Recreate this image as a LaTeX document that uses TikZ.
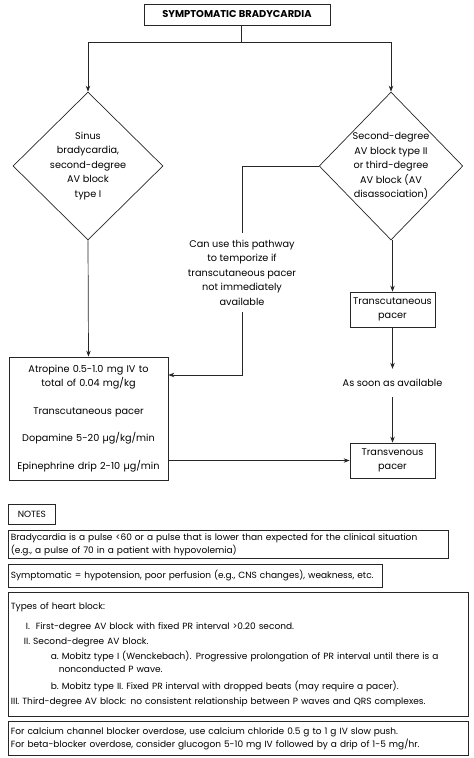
\documentclass[tikz,border=0pt]{standalone}
\usepackage{fontspec}
\setmainfont{Poppins}
\usetikzlibrary{shapes.geometric,arrows.meta}
\begin{document}
\begin{tikzpicture}[x=1pt,y=-1pt,
  ln/.style={draw=black!85, line width=0.7pt},
  arr/.style={ln, -{Stealth[length=6pt,width=4.5pt]}},
  dfont/.style={font=\fontsize{9.7}{14.5}\selectfont},
  nfont/.style={font=\fontsize{9}{13}\selectfont},
  box/.style={ln, inner sep=0pt, align=center, dfont},
  dia/.style={diamond, ln, inner sep=0pt, align=center, dfont},
  note/.style={ln, anchor=north west, align=left, inner xsep=2.5pt, inner ysep=0pt, nfont}]
\useasboundingbox (0,0) rectangle (474,758);
% flowchart
\node[box, minimum width=186pt, minimum height=21pt, font=\bfseries\fontsize{9.9}{12}\selectfont] (title) at (237,14.5) {SYMPTOMATIC BRADYCARDIA};
\node[dia, minimum width=150pt, minimum height=148pt] (d1) at (88,166) {Sinus\\bradycardia,\\second-degree\\AV block\\type I};
\node[dia, minimum width=142pt, minimum height=148pt] (d2) at (391,166) {Second-degree\\AV block type II\\or third-degree\\AV block (AV\\disassociation)};
\coordinate (fork) at (241,42);
\draw[ln] ([xshift=4pt]title.south) -- ([xshift=4pt]title.south |- fork);
\draw[arr] ([xshift=4pt]title.south |- fork) -| (d1.north);
\draw[arr] ([xshift=4pt]title.south |- fork) -| (d2.north);
\node[dfont, align=center, inner sep=0pt, minimum height=79pt] (mid) at (242,272.5) {Can use this pathway\\to temporize if\\transcutaneous pacer\\not immediately\\available};
\node[box, minimum width=159pt, minimum height=123pt, text width=159pt] (atro) at (88.5,418.5) {Atropine 0.5-1.0 mg IV to\\total of 0.04 mg/kg\\[13pt]Transcutaneous pacer\\[13pt]Dopamine 5-20 µg/kg/min\\[13pt]Epinephrine drip 2-10 µg/min};
\node[box, minimum width=85pt, minimum height=35pt, text width=85pt] (tcp) at (392.5,309.5) {Transcutaneous\\pacer};
\node[dfont, inner sep=0pt, minimum height=28pt] (soon) at (392.5,383) {As soon as available};
\node[box, minimum width=85pt, minimum height=35pt, text width=85pt] (tvp) at (392.5,460.5) {Transvenous\\pacer};
\coordinate (c375) at (0,375);
\draw[arr] (d1.south) -- (atro.north);
\draw[ln] (d2.west) -| (mid.north);
\draw[arr] (mid.south) |- (atro.east |- c375);
\draw[arr] (d2.south -| tcp.north) -- (tcp.north);
\draw[arr] (tcp.south) -- (soon.north);
\draw[arr] (soon.south) -- (tvp.north);
\draw[arr] (atro.east |- tvp.west) -- (tvp.west);
% notes
\node[note, minimum width=47pt, minimum height=20pt] (notes) at (8,504) {NOTES};
\node[note, minimum width=440pt, minimum height=28pt, text width=435pt] (brady) at (8,530) {Bradycardia is a pulse <60 or a pulse that is lower than expected for the clinical situation\\(e.g., a pulse of 70 in a patient with hypovolemia)};
\node[note, minimum width=374pt, minimum height=23pt, text width=369pt] (sympt) at (8,564) {Symptomatic = hypotension, poor perfusion (e.g., CNS changes), weakness, etc.};
\node[note, minimum width=460pt, minimum height=124pt, text width=455pt] (types) at (8,592) {Types of heart block:\\[7pt]
\hspace*{15pt}I.\ \ First-degree AV block with fixed PR interval >0.20 second.\\[2pt]
\hspace*{13pt}II.\ Second-degree AV block.\\[2pt]
\hspace*{40pt}a.\ Mobitz type I (Wenckebach). Progressive prolongation of PR interval until there is a\\
\hspace*{48pt}nonconducted P wave.\\[4pt]
\hspace*{40pt}b.\ Mobitz type II. Fixed PR interval with dropped beats (may require a pacer).\\[2pt]
III. Third-degree AV block: no consistent relationship between P waves and QRS complexes.};
\node[note, minimum width=460pt, minimum height=34pt, text width=455pt] (calc) at (8,721) {For calcium channel blocker overdose, use calcium chloride 0.5 g to 1 g IV slow push.\\For beta-blocker overdose, consider glucogon 5-10 mg IV followed by a drip of 1-5 mg/hr.};
\end{tikzpicture}
\end{document}
